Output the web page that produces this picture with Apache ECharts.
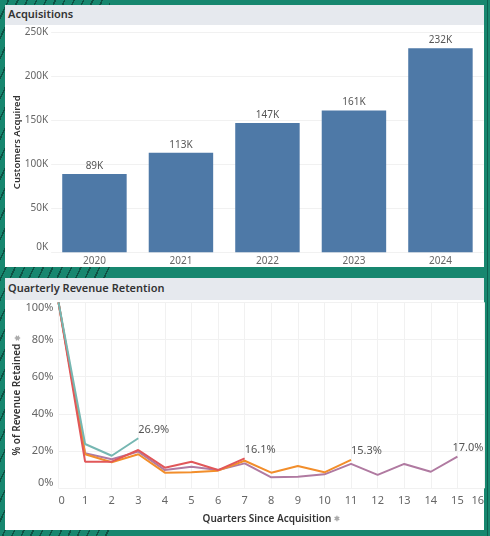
<!DOCTYPE html>
<html><head><meta charset="utf-8">
<script src="https://cdn.jsdelivr.net/npm/echarts@6/dist/echarts.min.js"></script>
<style>
html,body{margin:0;padding:0;width:490px;height:536px;overflow:hidden;background:#17876f;font-family:'Noto Sans',sans-serif;}
.stripes{position:absolute;left:0;top:0;width:110px;height:536px;background:repeating-linear-gradient(115deg, rgba(0,0,0,0) 0 7px, rgba(8,45,38,0.6) 7px 8.5px);}
.edge{position:absolute;left:487px;top:0;width:1px;height:536px;background:#0d5f4f;}
.panel{position:absolute;left:5px;width:479px;background:#fff;}
#p1{top:5px;height:262px;}
#p2{top:278px;height:252px;}
.title{background:#e6e9ee;color:#333;font-weight:600;font-size:11px;padding-left:3px;}
#p1 .title{height:20px;line-height:18px;}
#p2 .title{height:22px;line-height:19px;}
#chart{position:absolute;left:0;top:0;width:490px;height:536px;}
</style></head>
<body>
<div class="stripes"></div>
<div class="edge"></div>
<div class="panel" id="p1"><div class="title">Acquisitions</div></div>
<div class="panel" id="p2"><div class="title">Quarterly Revenue Retention</div></div>
<div id="chart"></div>
<script>
const years = ['2020', '2021', '2022', '2023', '2024'];
const acquiredK = [89, 113, 147, 161, 232];
const barTicks = [0, 50, 100, 150, 200, 250];

const cohort2024 = [100, 23.8, 17.5, 26.9];
const cohort2023 = [100, 14.3, 14.3, 20.6, 11.1, 14.3, 9.8, 16.1];
const cohort2022 = [100, 18.3, 14.0, 18.3, 8.4, 8.6, 9.5, 14.8, 8.4, 12.0, 8.6, 15.3];
const cohort2021 = [100, 18.8, 15.6, 19.7, 9.8, 11.6, 9.8, 13.4, 5.9, 6.2, 7.5, 13.1, 7.2, 13.1, 8.9, 17.0];

const FONT = "'Noto Sans', sans-serif";
const chart = echarts.init(document.getElementById('chart'), null, {renderer: 'canvas'});

function lineSeries(name, vals, color) {
  const last = vals.length - 1;
  return {
    name: name, type: 'line', xAxisIndex: 1, yAxisIndex: 1,
    symbol: 'circle', symbolSize: 0, showSymbol: true, clip: false,
    lineStyle: {color: color, width: 2}, itemStyle: {color: color},
    emphasis: {disabled: true},
    data: vals.map(function (v, i) {
      if (i !== last) return [i, v];
      return {value: [i, v], label: {
        show: true, position: 'top', align: 'left', distance: 3,
        offset: [last >= 15 ? -5 : 0, 0],
        color: '#555', fontSize: 11, fontFamily: FONT,
        formatter: function (p) { return p.value[1].toFixed(1) + '%'; }
      }};
    })
  };
}

chart.setOption({
  animation: false,
  textStyle: {fontFamily: FONT},
  grid: [
    {left: 51.2, top: 32.3, width: 432.5, height: 220, outerBoundsMode: 'none', containLabel: false},
    {left: 58.5, top: 302.3, width: 425.5, height: 186, outerBoundsMode: 'none', containLabel: false}
  ],
  xAxis: [
    {type: 'category', gridIndex: 0, data: years,
     axisTick: {show: false}, axisLine: {show: false},
     axisLabel: {color: '#666', fontSize: 10, margin: 4, fontFamily: FONT}},
    {type: 'value', gridIndex: 1, min: 0, max: 16, interval: 1,
     axisTick: {show: false}, axisLine: {show: false},
     splitLine: {show: true, lineStyle: {color: '#f1f1f1'}},
     axisLabel: {color: '#666', fontSize: 11, margin: 7, fontFamily: FONT,
                 alignMinLabel: 'left', alignMaxLabel: 'right'},
     name: 'Quarters Since Acquisition {i|✱}', nameLocation: 'middle', nameGap: 26,
     nameMoveOverlap: false,
     nameTextStyle: {color: '#333', fontSize: 10, fontWeight: 600, fontFamily: FONT,
                     rich: {i: {color: '#aaa', fontSize: 7}}}}
  ],
  yAxis: [
    {type: 'value', gridIndex: 0, min: barTicks[0], max: barTicks[barTicks.length - 1], interval: 50,
     axisTick: {show: false}, axisLine: {show: false},
     splitLine: {show: true, lineStyle: {color: '#f1f1f1'}},
     axisLabel: {color: '#666', fontSize: 10, margin: 3, fontFamily: FONT,
                 formatter: '{value}K', verticalAlignMinLabel: 'bottom'},
     name: 'Customers Acquired', nameLocation: 'middle', nameGap: 29,
     nameMoveOverlap: false,
     nameTextStyle: {color: '#333', fontSize: 9.5, fontWeight: 600, fontFamily: FONT}},
    {type: 'value', gridIndex: 1, min: 0, max: 100, interval: 20,
     axisTick: {show: false}, axisLine: {show: false},
     splitLine: {show: true, lineStyle: {color: '#f1f1f1'}},
     axisLabel: {color: '#666', fontSize: 11, margin: 5, fontFamily: FONT,
                 formatter: '{value}%', verticalAlignMinLabel: 'bottom', verticalAlignMaxLabel: 'top'},
     name: '% of Revenue Retained {i|✱}', nameLocation: 'middle', nameGap: 36,
     nameMoveOverlap: false,
     nameTextStyle: {color: '#333', fontSize: 10, fontWeight: 600, fontFamily: FONT,
                     rich: {i: {color: '#aaa', fontSize: 7}}}}
  ],
  series: [
    {type: 'bar', xAxisIndex: 0, yAxisIndex: 0, data: acquiredK,
     barCategoryGap: '25.5%', itemStyle: {color: '#4e79a7'},
     emphasis: {disabled: true},
     label: {show: true, position: 'top', distance: 3, color: '#555', fontSize: 10, fontFamily: FONT,
             formatter: '{c}K'}},
    lineSeries('2021', cohort2021, '#b07aa1'),
    lineSeries('2022', cohort2022, '#f28e2b'),
    lineSeries('2023', cohort2023, '#e15759'),
    lineSeries('2024', cohort2024, '#76b7b2')
  ]
});
</script>
</body></html>
